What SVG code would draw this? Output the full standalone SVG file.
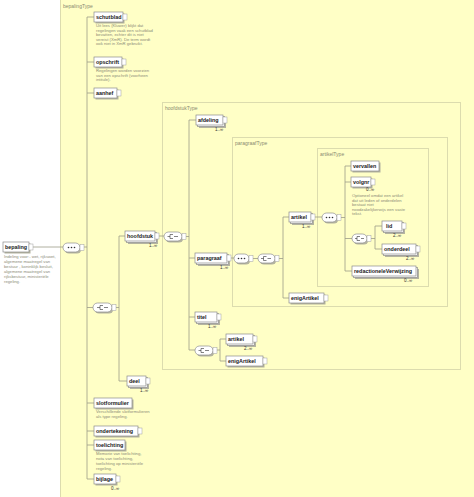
<svg xmlns="http://www.w3.org/2000/svg" width="474" height="497" viewBox="0 0 474 497">
<style>
.bg{fill:#fff}
.type{fill:#ffffc6;stroke:#dcdcae;stroke-width:1}
.tl{font-family:"Liberation Sans",Arial,sans-serif;font-size:5px;fill:#8a8a70}
.nb{fill:#fff;stroke:#8c8c8c;stroke-width:0.7}
.sh{fill:#b4b4a0}
.st{fill:#fff;stroke:#9a9a9a;stroke-width:0.6}
.ex{fill:#fff;stroke:#a0a0a0;stroke-width:0.5}
.lb{font-family:"Liberation Sans",Arial,sans-serif;font-size:5.4px;font-weight:bold;fill:#1a1a1a}
.oc{font-family:"Liberation Sans",Arial,sans-serif;font-size:4.5px;fill:#333}
.ds{font-family:"Liberation Sans",Arial,sans-serif;font-size:4.2px;fill:#8c8c78}
.ln{fill:none;stroke:#9c9c88;stroke-width:0.8}
.cp{fill:#fff;stroke:#8c8c8c;stroke-width:0.7}
.dot{fill:#333}
</style>
<rect class="bg" x="0" y="0" width="474" height="497"/>
<rect class="type" x="60.5" y="-1" width="415" height="499"/>
<text class="tl" x="63" y="8">bepalingType</text>
<rect class="type" x="162.5" y="102.5" width="298" height="267"/>
<text class="tl" x="165" y="110">hoofdstukType</text>
<rect class="type" x="232.5" y="137.5" width="215" height="169"/>
<text class="tl" x="235" y="145">paragraafType</text>
<rect class="type" x="317.5" y="148.5" width="111" height="138"/>
<text class="tl" x="320" y="156">artikelType</text>

<g id="connectors">
<path class="ln" d="M33 247H63"/>
<path class="ln" d="M84 247H87M87 17V479M87 17H94M87 62H94M87 93H94M87 307.5H93M87 403H94M87 431H94M87 445H94M87 479H94"/>
<path class="ln" d="M116 307.5H119M119 236V381M119 236H125M119 381H127"/>
<path class="ln" d="M159 236H164M186 236.5H189M189 120V350M189 120H196M189 258H195M189 317H195M189 350H195"/>
<path class="ln" d="M217 350H220M220 339V361M220 339H226M220 361H226"/>
<path class="ln" d="M231 258H234M253 258.5H258M279 258.5H283M283 217V298M283 217H289M283 298H289"/>
<path class="ln" d="M315 217H322M341 217.5H345M345 166V271M345 166H351M345 182H351M345 238.5H352M345 271H352"/>
<path class="ln" d="M371 238.5H375M375 226V249M375 226H382M375 249H382"/>
</g>

<g id="n-bepaling">
<rect class="sh" x="4.5" y="243.5" width="26" height="10"/>
<rect class="nb" x="3" y="242" width="26" height="10"/>
<rect class="ex" x="29" y="244" width="4" height="6"/>
<text class="lb" x="5" y="249">bepaling</text>
<text class="ds" x="4" y="258">Indeling voor:- wet, rijkswet,</text>
<text class="ds" x="4" y="263">algemene maatregel van</text>
<text class="ds" x="4" y="268">bestuur , koninklijk besluit,</text>
<text class="ds" x="4" y="273">algemene maatregel van</text>
<text class="ds" x="4" y="278">rijksbestuur, ministeriële</text>
<text class="ds" x="4" y="283">regeling.</text>
</g>

<g id="n-seq0">
<rect class="sh" x="64.5" y="244.5" width="17" height="9" rx="4.5"/>
<rect class="cp" x="63" y="243" width="17" height="9" rx="4.5"/>
<rect class="ex" x="80" y="244.5" width="4" height="6"/>
<circle class="dot" cx="68.5" cy="247.5" r="0.8"/><circle class="dot" cx="71.5" cy="247.5" r="0.8"/><circle class="dot" cx="74.5" cy="247.5" r="0.8"/>
</g>

<g id="n-schutblad">
<rect class="sh" x="95.5" y="13.5" width="29" height="10"/>
<rect class="nb" x="94" y="12" width="29" height="10"/>
<rect class="ex" x="123" y="14" width="4" height="6"/>
<text class="lb" x="96" y="19">schutblad</text>
<text class="ds" x="96" y="27">Uit lees (Kluwer) blijkt dat</text>
<text class="ds" x="96" y="31.5">regelingen vaak een schutblad</text>
<text class="ds" x="96" y="36">bevatten, echter dit is niet</text>
<text class="ds" x="96" y="40.5">vereist (XmR). De term wordt</text>
<text class="ds" x="96" y="45">ook niet in XmR gebruikt.</text>
</g>

<g id="n-opschrift">
<rect class="sh" x="95.5" y="58.5" width="28" height="10"/>
<rect class="nb" x="94" y="57" width="28" height="10"/>
<rect class="ex" x="122" y="59" width="4" height="6"/>
<text class="lb" x="96" y="64">opschrift</text>
<text class="ds" x="96" y="72">Regelingen worden voorzien</text>
<text class="ds" x="96" y="76.5">van een opschrift (voorheen</text>
<text class="ds" x="96" y="81">intitule).</text>
</g>

<g id="n-aanhef">
<rect class="sh" x="95.5" y="89.5" width="23" height="10"/>
<rect class="nb" x="94" y="88" width="23" height="10"/>
<rect class="ex" x="117" y="90" width="4" height="6"/>
<text class="lb" x="96" y="95">aanhef</text>
</g>

<g id="n-choice0">
<rect class="sh" x="94.5" y="304.5" width="19" height="9" rx="4.5"/>
<rect class="cp" x="93" y="303" width="19" height="9" rx="4.5"/>
<rect class="ex" x="112" y="304.5" width="4" height="6"/>
<path class="ln" d="M97 307.5H100M100 305.5V309.5M100 305.5H103M100 309.5H103M104 307.5H108" style="stroke:#333;stroke-width:0.6"/>
</g>

<g id="n-hoofdstuk">
<rect class="sh" x="128" y="234" width="30" height="10"/>
<rect class="nb" x="126.5" y="232.5" width="30" height="10"/>
<rect class="nb" x="125" y="231" width="30" height="10"/>
<rect class="ex" x="155" y="233" width="4" height="6"/>
<text class="lb" x="127" y="238">hoofdstuk</text>
<text class="oc" x="149" y="247">1..∞</text>
</g>

<g id="n-choice1">
<rect class="sh" x="165.5" y="233.5" width="18" height="9" rx="4.5"/>
<rect class="cp" x="164" y="232" width="18" height="9" rx="4.5"/>
<rect class="ex" x="182" y="233.5" width="4" height="6"/>
<path class="ln" d="M167.5 236.5H170M170 234.5V238.5M170 234.5H173M170 238.5H173M174 236.5H178" style="stroke:#333;stroke-width:0.6"/>
</g>

<g id="n-afdeling">
<rect class="sh" x="199" y="118" width="27" height="10"/>
<rect class="nb" x="197.5" y="116.5" width="27" height="10"/>
<rect class="nb" x="196" y="115" width="27" height="10"/>
<rect class="ex" x="223" y="117" width="4" height="6"/>
<text class="lb" x="198" y="122">afdeling</text>
<text class="oc" x="215" y="131">1..∞</text>
</g>

<g id="n-paragraaf">
<rect class="sh" x="198" y="256" width="32" height="10"/>
<rect class="nb" x="196.5" y="254.5" width="32" height="10"/>
<rect class="nb" x="195" y="253" width="32" height="10"/>
<rect class="ex" x="227" y="255" width="4" height="6"/>
<text class="lb" x="197" y="260">paragraaf</text>
<text class="oc" x="220" y="269">1..∞</text>
</g>

<g id="n-seq2">
<rect class="sh" x="235.5" y="255.5" width="15" height="9" rx="4.5"/>
<rect class="cp" x="234" y="254" width="15" height="9" rx="4.5"/>
<rect class="ex" x="249" y="255.5" width="4" height="6"/>
<circle class="dot" cx="238.5" cy="258.5" r="0.8"/><circle class="dot" cx="241.5" cy="258.5" r="0.8"/><circle class="dot" cx="244.5" cy="258.5" r="0.8"/>
</g>

<g id="n-choice3">
<rect class="sh" x="259.5" y="255.5" width="17" height="9" rx="4.5"/>
<rect class="cp" x="258" y="254" width="17" height="9" rx="4.5"/>
<rect class="ex" x="275" y="255.5" width="4" height="6"/>
<path class="ln" d="M261 258.5H263.5M263.5 256.5V260.5M263.5 256.5H266.5M263.5 260.5H266.5M267.5 258.5H271" style="stroke:#333;stroke-width:0.6"/>
</g>

<g id="n-artikel1">
<rect class="sh" x="292" y="215" width="22" height="10"/>
<rect class="nb" x="290.5" y="213.5" width="22" height="10"/>
<rect class="nb" x="289" y="212" width="22" height="10"/>
<rect class="ex" x="311" y="214" width="4" height="6"/>
<text class="lb" x="291" y="219">artikel</text>
<text class="oc" x="302" y="228">1..∞</text>
</g>

<g id="n-seq3">
<rect class="sh" x="323.5" y="214.5" width="15" height="9" rx="4.5"/>
<rect class="cp" x="322" y="213" width="15" height="9" rx="4.5"/>
<rect class="ex" x="337" y="214.5" width="4" height="6"/>
<circle class="dot" cx="326.5" cy="217.5" r="0.8"/><circle class="dot" cx="329.5" cy="217.5" r="0.8"/><circle class="dot" cx="332.5" cy="217.5" r="0.8"/>
</g>

<g id="n-vervallen">
<rect class="sh" x="352.5" y="162.5" width="28" height="10"/>
<rect class="nb" x="351" y="161" width="28" height="10"/>
<text class="lb" x="353" y="168">vervallen</text>
</g>

<g id="n-volgnr">
<rect class="sh" x="352.5" y="178.5" width="20" height="10"/>
<rect class="nb" x="351" y="177" width="20" height="10"/>
<rect class="ex" x="371" y="179" width="4" height="6"/>
<text class="lb" x="353" y="184">volgnr</text>
<text class="oc" x="366" y="191">0..∞</text>
<text class="ds" x="352" y="197">Optioneel omdat een artikel</text>
<text class="ds" x="352" y="201.5">dat uit leden of onderdelen</text>
<text class="ds" x="352" y="206">bestaat niet</text>
<text class="ds" x="352" y="210.5">noodzakelijkerwijs een vaste</text>
<text class="ds" x="352" y="215">tekst.</text>
</g>

<g id="n-choice4">
<rect class="sh" x="353.5" y="235.5" width="15" height="9" rx="4.5"/>
<rect class="cp" x="352" y="234" width="15" height="9" rx="4.5"/>
<rect class="ex" x="367" y="235.5" width="4" height="6"/>
<path class="ln" d="M355 238.5H357M357 236.5V240.5M357 236.5H360M357 240.5H360M361 238.5H364" style="stroke:#333;stroke-width:0.6"/>
</g>

<g id="n-lid">
<rect class="sh" x="385" y="224" width="20" height="10"/>
<rect class="nb" x="383.5" y="222.5" width="20" height="10"/>
<rect class="nb" x="382" y="221" width="20" height="10"/>
<rect class="ex" x="402" y="223" width="4" height="6"/>
<text class="lb" x="386" y="228">lid</text>
<text class="oc" x="393" y="237">2..∞</text>
</g>

<g id="n-onderdeel">
<rect class="sh" x="385" y="247" width="34" height="10"/>
<rect class="nb" x="383.5" y="245.5" width="34" height="10"/>
<rect class="nb" x="382" y="244" width="34" height="10"/>
<rect class="ex" x="416" y="246" width="4" height="6"/>
<text class="lb" x="384" y="251">onderdeel</text>
<text class="oc" x="406" y="260">2..∞</text>
</g>

<g id="n-redactioneleVerwijzing">
<rect class="sh" x="355" y="269" width="64" height="10"/>
<rect class="nb" x="353.5" y="267.5" width="64" height="10"/>
<rect class="nb" x="352" y="266" width="64" height="10"/>
<text class="lb" x="354" y="273">redactioneleVerwijzing</text>
<text class="oc" x="404" y="282">0..∞</text>
</g>

<g id="n-enigArtikel1">
<rect class="sh" x="290.5" y="294.5" width="35" height="10"/>
<rect class="nb" x="289" y="293" width="35" height="10"/>
<rect class="ex" x="324" y="295" width="4" height="6"/>
<text class="lb" x="291" y="300">enigArtikel</text>
</g>

<g id="n-titel">
<rect class="sh" x="198" y="315" width="22" height="10"/>
<rect class="nb" x="196.5" y="313.5" width="22" height="10"/>
<rect class="nb" x="195" y="312" width="22" height="10"/>
<rect class="ex" x="217" y="314" width="4" height="6"/>
<text class="lb" x="197" y="319">titel</text>
<text class="oc" x="208" y="328">1..∞</text>
</g>

<g id="n-choice2">
<rect class="sh" x="196.5" y="347.5" width="18" height="9" rx="4.5"/>
<rect class="cp" x="195" y="346" width="18" height="9" rx="4.5"/>
<rect class="ex" x="213" y="347.5" width="4" height="6"/>
<path class="ln" d="M198.5 350.5H201M201 348.5V352.5M201 348.5H204M201 352.5H204M205 350.5H209" style="stroke:#333;stroke-width:0.6"/>
</g>

<g id="n-artikel2">
<rect class="sh" x="229" y="337" width="27" height="10"/>
<rect class="nb" x="227.5" y="335.5" width="27" height="10"/>
<rect class="nb" x="226" y="334" width="27" height="10"/>
<rect class="ex" x="253" y="336" width="4" height="6"/>
<text class="lb" x="228" y="341">artikel</text>
<text class="oc" x="244" y="350">2..∞</text>
</g>

<g id="n-enigArtikel2">
<rect class="sh" x="227.5" y="357.5" width="37" height="10"/>
<rect class="nb" x="226" y="356" width="37" height="10"/>
<rect class="ex" x="263" y="358" width="4" height="6"/>
<text class="lb" x="228" y="363">enigArtikel</text>
</g>

<g id="n-deel">
<rect class="sh" x="130" y="379" width="19" height="10"/>
<rect class="nb" x="128.5" y="377.5" width="19" height="10"/>
<rect class="nb" x="127" y="376" width="19" height="10"/>
<rect class="ex" x="146" y="378" width="4" height="6"/>
<text class="lb" x="129" y="383">deel</text>
<text class="oc" x="140" y="392">1..∞</text>
</g>

<g id="n-slotformulier">
<rect class="sh" x="95.5" y="399.5" width="38" height="10"/>
<rect class="nb" x="94" y="398" width="38" height="10"/>
<text class="lb" x="96" y="405">slotformulier</text>
<text class="ds" x="96" y="413">Verschillende slotformulieren</text>
<text class="ds" x="96" y="418">als type regeling.</text>
</g>

<g id="n-ondertekening">
<rect class="sh" x="95.5" y="427.5" width="44" height="10"/>
<rect class="nb" x="94" y="426" width="44" height="10"/>
<rect class="ex" x="138" y="428" width="4" height="6"/>
<text class="lb" x="96" y="433">ondertekening</text>
</g>

<g id="n-toelichting">
<rect class="sh" x="95.5" y="441.5" width="31" height="10"/>
<rect class="nb" x="94" y="440" width="31" height="10"/>
<text class="lb" x="96" y="447">toelichting</text>
<text class="ds" x="96" y="455">Memorie van toelichting,</text>
<text class="ds" x="96" y="460">nota van toelichting,</text>
<text class="ds" x="96" y="465">toelichting op ministeriële</text>
<text class="ds" x="96" y="470">regeling.</text>
</g>

<g id="n-bijlage">
<rect class="sh" x="95.5" y="475.5" width="22" height="10"/>
<rect class="nb" x="94" y="474" width="22" height="10"/>
<rect class="ex" x="116" y="476" width="4" height="6"/>
<text class="lb" x="96" y="481">bijlage</text>
<text class="oc" x="111" y="490">0..∞</text>
</g>
</svg>
